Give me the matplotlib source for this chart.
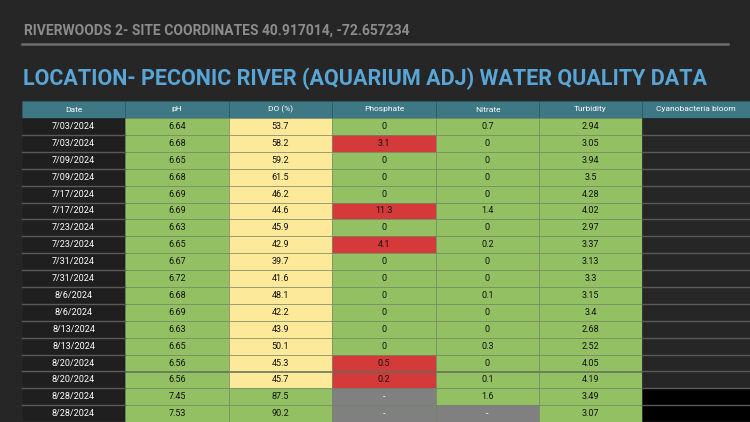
import matplotlib
matplotlib.use("Agg")
import matplotlib.pyplot as plt
from matplotlib.patches import Rectangle

columns = ["Date", "pH", "DO (%)", "Phosphate", "Nitrate", "Turbidity", "Cyanobacteria bloom"]
dates = ["7/03/2024", "7/03/2024", "7/09/2024", "7/09/2024", "7/17/2024", "7/17/2024",
         "7/23/2024", "7/23/2024", "7/31/2024", "7/31/2024", "8/6/2024", "8/6/2024",
         "8/13/2024", "8/13/2024", "8/20/2024", "8/20/2024", "8/28/2024", "8/28/2024"]
ph = ["6.64", "6.68", "6.65", "6.68", "6.69", "6.69", "6.63", "6.65", "6.67", "6.72",
      "6.68", "6.69", "6.63", "6.65", "6.56", "6.56", "7.45", "7.53"]
do_pct = ["53.7", "58.2", "59.2", "61.5", "46.2", "44.6", "45.9", "42.9", "39.7", "41.6",
          "48.1", "42.2", "43.9", "50.1", "45.3", "45.7", "87.5", "90.2"]
phosphate = ["0", "3.1", "0", "0", "0", "11.3", "0", "4.1", "0", "0",
             "0", "0", "0", "0", "0.5", "0.2", "-", "-"]
nitrate = ["0.7", "0", "0", "0", "0", "1.4", "0", "0.2", "0", "0",
           "0.1", "0", "0", "0.3", "0", "0.1", "1.6", "-"]
turbidity = ["2.94", "3.05", "3.94", "3.5", "4.28", "4.02", "2.97", "3.37", "3.13", "3.3",
             "3.15", "3.4", "2.68", "2.52", "4.05", "4.19", "3.49", "3.07"]
cyano = [""] * 18
# cell status: g=good, y=caution, r=high, n=no data
do_status = ["y"] * 16 + ["g", "g"]
phos_status = ["r" if p not in ("0", "-") else ("n" if p == "-" else "g") for p in phosphate]
nitr_status = ["n" if v == "-" else "g" for v in nitrate]
cyano_status = ["d"] * 16 + ["k", "k"]

BG = "#262626"
fills = {"g": "#93c062", "y": "#fde99a", "r": "#d43a3a", "n": "#808080",
         "d": BG, "k": "#000000", "date": "#1f1f1f"}

col_edges = [22, 125, 229, 332, 436, 539, 642, 750]
top, head_h, row_h = 101, 17, 16.9

fig = plt.figure(figsize=(7.5, 4.22), dpi=100, facecolor=BG)
ax = fig.add_axes([0, 0, 1, 1])
ax.set_xlim(0, 750)
ax.set_ylim(422, 0)
ax.axis("off")

fam = ["Roboto", "DejaVu Sans"]
ax.text(24, 31, "RIVERWOODS 2- SITE COORDINATES 40.917014, -72.657234",
        color="#8c8c8c", fontsize=10, family=fam, va="center", fontweight="bold")
ax.plot([22, 728], [44, 44], color="#6e6e6e", lw=1.8)
ax.text(23, 79, "LOCATION- PECONIC RIVER (AQUARIUM ADJ) WATER QUALITY DATA",
        color="#58a5d6", fontsize=15.5, family=fam, va="center", fontweight="bold")

# header
for j, name in enumerate(columns):
    x0, x1 = col_edges[j], col_edges[j + 1]
    ax.add_patch(Rectangle((x0, top), x1 - x0, head_h, fc="#3d7884", ec="#2c5a63", lw=0.6))
    ax.text((x0 + x1) / 2, top + head_h / 2, name, color="white", fontsize=6,
            ha="center", va="center", family=fam)

cols = [dates, ph, do_pct, phosphate, nitrate, turbidity, cyano]
for i in range(len(dates)):
    y0 = top + head_h + i * row_h
    status = ["date", "g", do_status[i], phos_status[i], nitr_status[i], "g", cyano_status[i]]
    for j, vals in enumerate(cols):
        x0, x1 = col_edges[j], col_edges[j + 1]
        ax.add_patch(Rectangle((x0, y0), x1 - x0, row_h, fc=fills[status[j]],
                               ec="#7a8a6a" if status[j] in "gyrn" else BG, lw=0.4))
        txt = vals[i]
        color = "white" if j == 0 or status[j] == "n" else "#111111"
        ax.text((x0 + x1) / 2, y0 + row_h / 2, txt, color=color, fontsize=6.5,
                ha="center", va="center", family=fam)
    ax.plot([22, 125], [y0 + row_h, y0 + row_h], color="#5a5a5a", lw=1.0)
    ax.plot([642, 750], [y0 + row_h, y0 + row_h], color="#5a5a5a", lw=1.0)

fig.savefig("out.png", dpi=100, facecolor=BG)
